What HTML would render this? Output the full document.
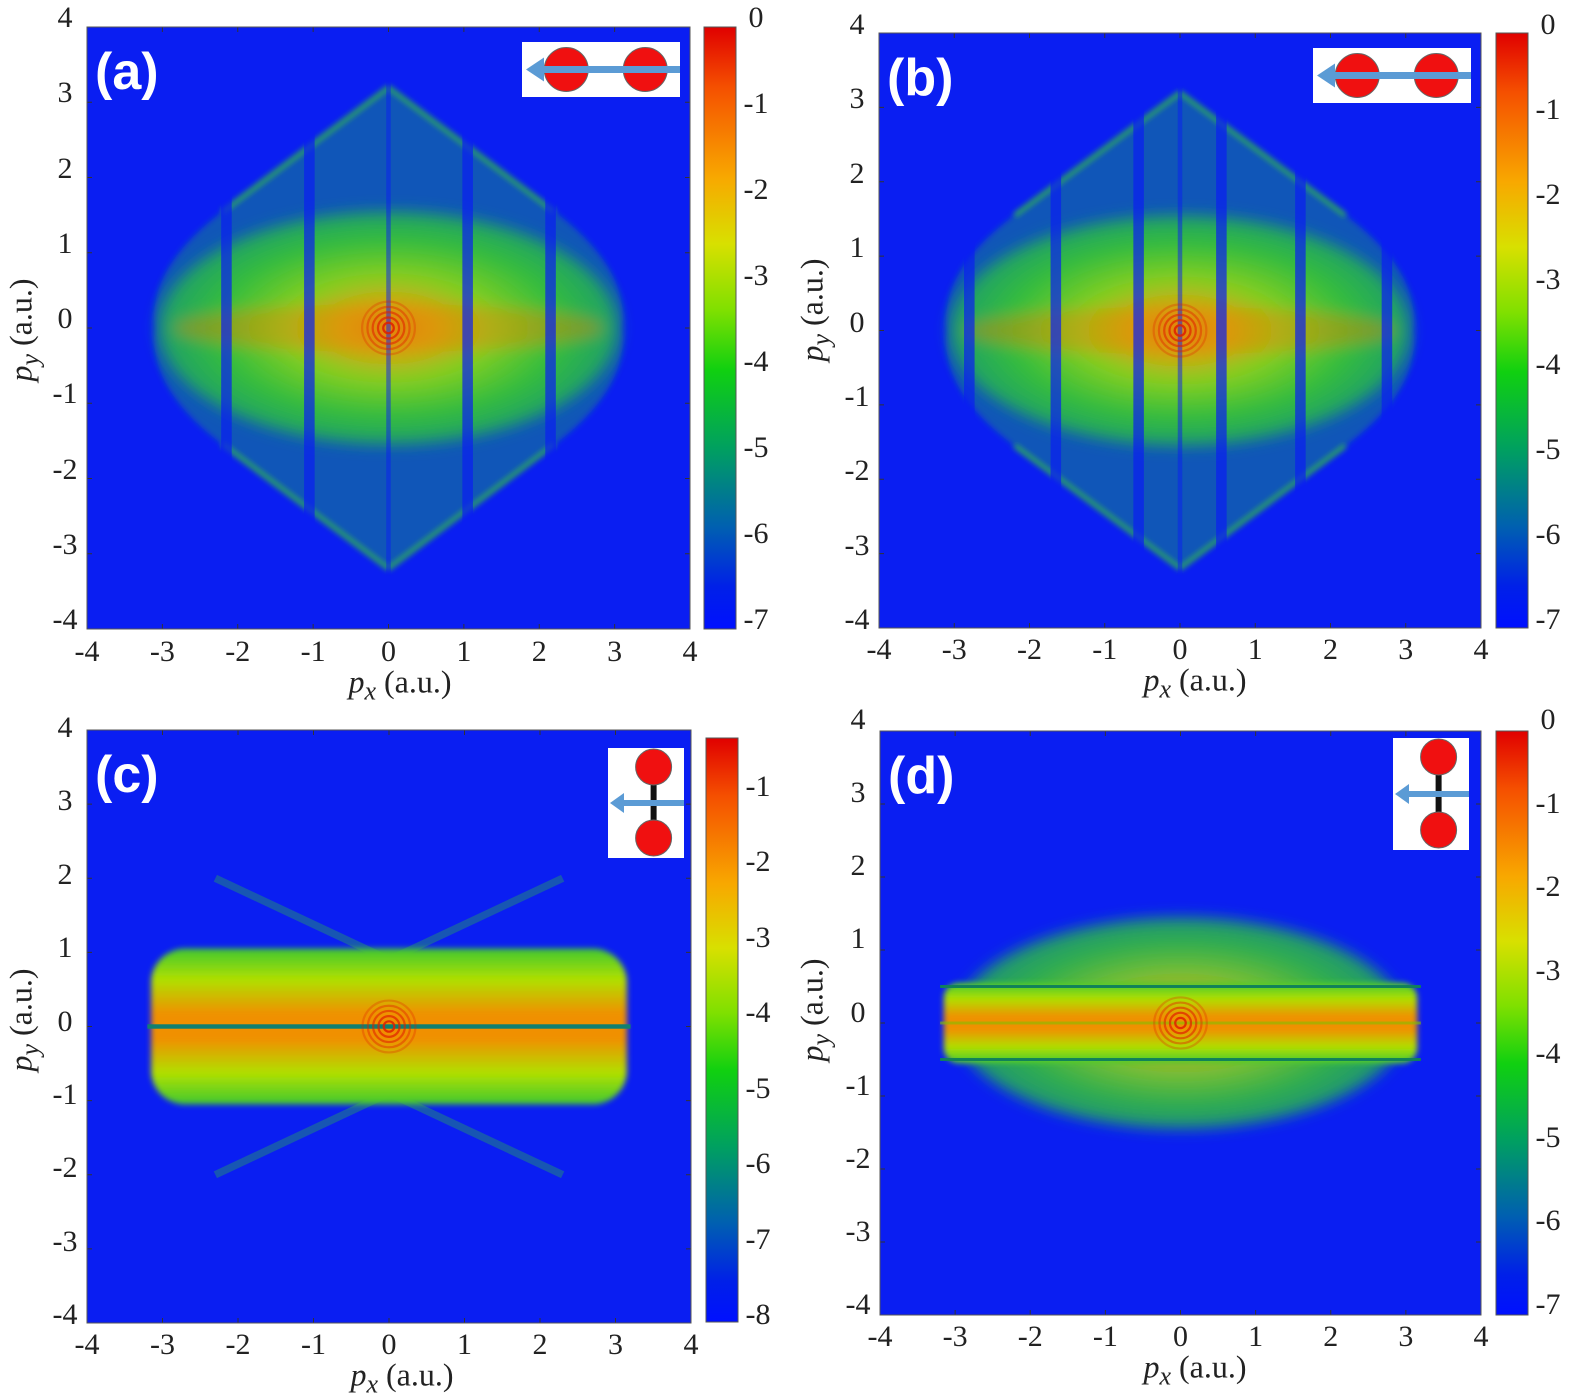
<!DOCTYPE html>
<html><head><meta charset="utf-8">
<style>
body{margin:0;background:#fff;width:1570px;height:1400px;position:relative;overflow:hidden;font-family:"Liberation Serif","DejaVu Serif","Times New Roman",serif;}
.t{position:absolute;font-family:"Liberation Serif","DejaVu Serif",serif;font-size:30px;color:#222;transform:translate(-50%,-50%);white-space:nowrap;line-height:1;}
.pl{position:absolute;color:#fff;font-family:"Liberation Sans","DejaVu Sans",sans-serif;font-weight:bold;font-size:52px;}
svg{position:absolute;}
</style></head><body>
<svg width="0" height="0" style="position:absolute">
<defs>
<filter id="bl" x="-20%" y="-20%" width="140%" height="140%"><feGaussianBlur stdDeviation="0.04"/></filter>
<filter id="bl2" x="-20%" y="-20%" width="140%" height="140%"><feGaussianBlur stdDeviation="0.1"/></filter>
<radialGradient id="rg"><stop offset="0" stop-color="#f08a00"/><stop offset="0.2" stop-color="#e8b000"/><stop offset="0.45" stop-color="#90dc10"/><stop offset="0.75" stop-color="#38c830"/><stop offset="1" stop-color="#20a860"/></radialGradient>
<linearGradient id="vg" x1="0" y1="0" x2="0" y2="1"><stop offset="0" stop-color="#40c830"/><stop offset="0.2" stop-color="#b0e000"/><stop offset="0.42" stop-color="#f09000"/><stop offset="0.58" stop-color="#f09000"/><stop offset="0.8" stop-color="#b0e000"/><stop offset="1" stop-color="#40c830"/></linearGradient>
<linearGradient id="cb" x1="0" y1="0" x2="0" y2="1"><stop offset="0" stop-color="#e00000"/><stop offset="0.1" stop-color="#f55000"/><stop offset="0.25" stop-color="#f8a800"/><stop offset="0.36" stop-color="#d8e000"/><stop offset="0.47" stop-color="#80e000"/><stop offset="0.57" stop-color="#10d010"/><stop offset="0.7" stop-color="#00a060"/><stop offset="0.83" stop-color="#0060b0"/><stop offset="0.93" stop-color="#0020e8"/><stop offset="1" stop-color="#0010ff"/></linearGradient>
</defs></svg>
<div id="root"></div>
<script>
const P=[
 {n:'a',L:87,T:27,R:690,B:629,cb:[704,27,736,629],cl:[0,-7],cly:[18,620],yl:[18,620],xly:652,xt:[400,685],yt:[24,330],ins:[522,42,158,55,'h'],type:'ab',st:[-3.75,-2.15,-1.05,1.05,2.15,3.35]},
 {n:'b',L:879,T:33,R:1481,B:628,cb:[1496,33,1528,628],cl:[0,-7],cly:[25,620],yl:[25,620],xly:650,xt:[1195,683],yt:[815,310],ins:[1313,48,158,55,'h'],type:'ab',st:[-3.65,-2.8,-1.65,-0.55,0.55,1.6,2.75]},
 {n:'c',L:87,T:730,R:691,B:1323,cb:[706,738,738,1322],cl:[-1,-8],cly:[787,1315],yl:[728,1315],xly:1345,xt:[402,1378],yt:[24,1020],ins:[608,748,76,110,'v'],type:'c'},
 {n:'d',L:880,T:731,R:1481,B:1315,cb:[1496,731,1528,1315],cl:[0,-7],cly:[720,1305],yl:[720,1305],xly:1337,xt:[1195,1370],yt:[815,1010],ins:[1393,738,76,112,'v'],type:'d'}];
let h='';
function rings(n,c){let s='';for(let i=1;i<=n;i++)s+=`<circle r="${0.07*i}" fill="none" stroke="${c}" stroke-width="0.03" opacity="${1-i/(n+2)}"/>`;return s;}
for(const p of P){
 const w=p.R-p.L,hh=p.B-p.T;
 let c=`<rect x="-4" y="-4" width="8" height="8" fill="#0a1ef2"/>`;
 if(p.type=='ab'){
  c+=`<g filter="url(#bl)"><path d="M0,-3.2 L2.2,-1.55 Q3.2,-0.8 3.1,0 Q3.2,0.8 2.2,1.55 L0,3.2 L-2.2,1.55 Q-3.2,0.8 -3.1,0 Q-3.2,-0.8 -2.2,-1.55 Z" fill="#1a9a70" opacity="0.45"/>
  <path d="M0,-3.2 L2.2,-1.55 M0,3.2 L2.2,1.55 M0,-3.2 L-2.2,-1.55 M0,3.2 L-2.2,1.55" stroke="#30c040" stroke-width="0.05"/></g>
  <g filter="url(#bl2)"><ellipse rx="3.05" ry="1.55" fill="url(#rg)" opacity="0.9"/><ellipse rx="2.85" ry="0.32" fill="#f08000" opacity="0.4"/></g>`;
  for(const x of p.st)c+=`<rect x="${x-0.07}" y="-4" width="0.14" height="8" fill="#0a1ef2" opacity="0.7"/>`;
  c+=`<rect x="-0.03" y="-4" width="0.06" height="8" fill="#0a1ef2" opacity="0.5"/>`+rings(5,'#e02000');
 } else if(p.type=='c'){
  c+=`<g opacity="0.35"><path d="M-2.3,-2 L0,-0.9 L2.3,-2 M-2.3,2 L0,0.9 L2.3,2" stroke="#30c040" stroke-width="0.1" fill="none"/></g>
  <g filter="url(#bl)"><rect x="-3.15" y="-1.05" width="6.3" height="2.1" rx="0.45" fill="url(#vg)"/></g>
  <rect x="-3.2" y="-0.03" width="6.4" height="0.06" fill="#108070"/>`+rings(5,'#e02000');
 } else {
  c+=`<g filter="url(#bl2)"><ellipse rx="3.0" ry="1.45" fill="url(#rg)" opacity="0.85"/></g>
  <g filter="url(#bl)"><rect x="-3.15" y="-0.55" width="6.3" height="1.1" rx="0.2" fill="url(#vg)"/></g>
  <rect x="-3.2" y="-0.52" width="6.4" height="0.04" fill="#10805a"/><rect x="-3.2" y="0.48" width="6.4" height="0.04" fill="#10805a"/><rect x="-3.2" y="-0.02" width="6.4" height="0.04" fill="#80c000" opacity="0.6"/>`+rings(5,'#e02000');
 }
 h+=`<svg style="left:${p.L}px;top:${p.T}px" width="${w}" height="${hh}" viewBox="-4 -4 8 8" preserveAspectRatio="none">${c}</svg>`;
 let tk='';for(let i=0;i<=8;i++){const x=p.L+w*i/8,y=p.T+hh*i/8;tk+=`<line x1="${x}" y1="${p.T}" x2="${x}" y2="${p.T+5}" stroke="#333"/><line x1="${x}" y1="${p.B}" x2="${x}" y2="${p.B-5}" stroke="#333"/><line x1="${p.L}" y1="${y}" x2="${p.L+5}" y2="${y}" stroke="#333"/><line x1="${p.R}" y1="${y}" x2="${p.R-5}" y2="${y}" stroke="#333"/>`;}
 h+=`<svg style="left:0;top:0" width="1570" height="1400">${tk}<rect x="${p.L}" y="${p.T}" width="${w}" height="${hh}" fill="none" stroke="#555"/>
 <rect x="${p.cb[0]}" y="${p.cb[1]}" width="${p.cb[2]-p.cb[0]}" height="${p.cb[3]-p.cb[1]}" fill="url(#cb)" stroke="#555"/></svg>`;
 for(let i=0;i<=8;i++){
  h+=`<div class="t" style="left:${p.L+w*i/8}px;top:${p.xly}px">${i-4}</div>`;
  h+=`<div class="t" style="left:${p.L-22}px;top:${p.yl[0]+(p.yl[1]-p.yl[0])*i/8}px">${4-i}</div>`;
 }
 const nl=p.cl[0]-p.cl[1];
 for(let k=0;k<=nl;k++){h+=`<div class="t" style="left:${p.cb[2]+20}px;top:${p.cly[0]+(p.cly[1]-p.cly[0])*k/nl}px">${p.cl[0]-k}</div>`;}
 h+=`<div class="t" style="left:${p.xt[0]}px;top:${p.xt[1]}px;font-size:32px"><i>p</i><sub style="font-size:26px"><i>x</i></sub> (a.u.)</div>`;
 h+=`<div class="t" style="left:${p.yt[0]}px;top:${p.yt[1]}px;font-size:32px;transform:translate(-50%,-50%) rotate(-90deg)"><i>p</i><sub style="font-size:26px"><i>y</i></sub> (a.u.)</div>`;
 h+=`<div class="pl" style="left:${p.L+8}px;top:${p.T+15}px">(${p.n})</div>`;
 const [ix,iy,iw,ih,o]=p.ins;
 let s=`<rect x="0" y="0" width="${iw}" height="${ih}" fill="#fff"/>`;
 if(o=='h'){s+=`<circle cx="${iw*0.28}" cy="${ih/2}" r="22" fill="#f01010" stroke="#666"/><circle cx="${iw*0.78}" cy="${ih/2}" r="22" fill="#f01010" stroke="#666"/><line x1="${iw}" y1="${ih/2}" x2="18" y2="${ih/2}" stroke="#5b9bd5" stroke-width="7"/><polygon points="4,${ih/2} 22,${ih/2-12} 22,${ih/2+12}" fill="#5b9bd5"/>`;}
 else{s+=`<line x1="${iw*0.6}" y1="20" x2="${iw*0.6}" y2="${ih-20}" stroke="#111" stroke-width="6"/><circle cx="${iw*0.6}" cy="19" r="18" fill="#f01010" stroke="#666"/><circle cx="${iw*0.6}" cy="${ih-20}" r="18" fill="#f01010" stroke="#666"/><line x1="${iw}" y1="${ih/2}" x2="14" y2="${ih/2}" stroke="#5b9bd5" stroke-width="6"/><polygon points="2,${ih/2} 16,${ih/2-10} 16,${ih/2+10}" fill="#5b9bd5"/>`;}
 h+=`<svg style="left:${ix}px;top:${iy}px" width="${iw}" height="${ih}">${s}</svg>`;
}
document.getElementById('root').innerHTML=h;
</script>
</body></html>
